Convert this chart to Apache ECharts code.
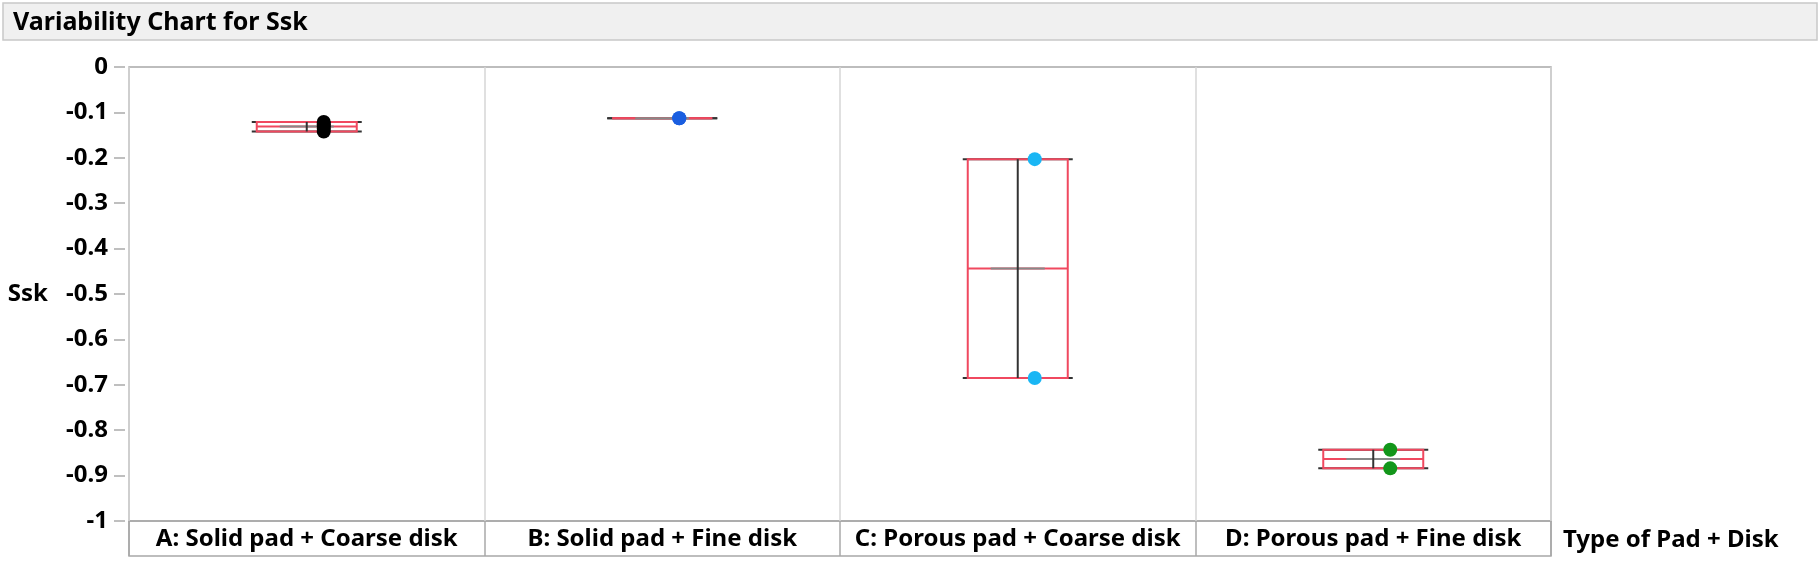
<!DOCTYPE html>
<html>
<head>
<meta charset="utf-8">
<script src="https://cdn.jsdelivr.net/npm/echarts@6/dist/echarts.min.js"></script>
<style>
  html, body { margin: 0; padding: 0; background: #fff; }
  #chart { width: 1820px; height: 561px; }
</style>
</head>
<body>
<div id="chart"></div>
<script>
// categories and Ssk readings per group
const categories = [
  "A: Solid pad + Coarse disk",
  "B: Solid pad + Fine disk",
  "C: Porous pad + Coarse disk",
  "D: Porous pad + Fine disk"
];
const sskA = [-0.121, -0.126, -0.131, -0.136, -0.142];
const sskB = [-0.113, -0.113];
const sskC = [-0.203, -0.685];
const sskD = [-0.843, -0.884];
const groups = [sskA, sskB, sskC, sskD];
const pointColors = ["#000000", "#1a5ee0", "#1ab6f4", "#13961a"];

const yMin = -1, yMax = 0, yStep = 0.1;
const FONT = "Noto Sans";

// plot area
const plotLeft = 129, plotTop = 67, plotWidth = 1422, plotHeight = 454, rowHeight = 35;

// range / mean per group
const summary = groups.map((g, i) => {
  const lo = Math.min(...g), hi = Math.max(...g);
  const mean = g.reduce((a, b) => a + b, 0) / g.length;
  return [i, lo, hi, mean];
});

// individual points
const points = [];
groups.forEach((g, i) => g.forEach(v => points.push({
  value: [i, v],
  itemStyle: { color: pointColors[i], opacity: 1 }
})));

const chart = echarts.init(document.getElementById("chart"));

function drawGroup(params, api) {
  const i = api.value(0);
  const lo = api.coord([i, api.value(1)]);
  const hi = api.coord([i, api.value(2)]);
  const mid = api.coord([i, api.value(3)]);
  const cx = lo[0];
  const half = 50;
  const black = { stroke: "#333", lineWidth: 2 };
  const red = { stroke: "#f0485f", lineWidth: 2, fill: null };
  return {
    type: "group",
    children: [
      // range bar caps
      { type: "line", shape: { x1: cx - half - 5, y1: hi[1], x2: cx + half + 5, y2: hi[1] }, style: black },
      { type: "line", shape: { x1: cx - half - 5, y1: lo[1], x2: cx + half + 5, y2: lo[1] }, style: black },
      // red box and mean line
      { type: "rect", shape: { x: cx - half, y: hi[1], width: half * 2, height: lo[1] - hi[1] }, style: red },
      { type: "line", shape: { x1: cx - half, y1: mid[1], x2: cx + half, y2: mid[1] }, style: { stroke: "#f0485f", lineWidth: 2 } },
      // grey group mean
      { type: "line", shape: { x1: cx - 27, y1: mid[1], x2: cx + 27, y2: mid[1] }, style: { stroke: "#888", lineWidth: 2 } },
      // range bar
      { type: "line", shape: { x1: cx, y1: hi[1], x2: cx, y2: lo[1] }, style: black }
    ]
  };
}

const labelFont = { fontFamily: FONT, fontWeight: "bold", fontSize: 24, color: "#000" };

chart.setOption({
  animation: false,
  backgroundColor: "#fff",
  title: {
    text: "Variability Chart for Ssk",
    left: 8, top: 5,
    textStyle: { fontFamily: FONT, fontWeight: "bold", fontSize: 25, color: "#000" }
  },
  graphic: [{
    type: "rect", z: -10,
    shape: { x: 3, y: 3, width: 1814, height: 37 },
    style: { fill: "#f0f0f0", stroke: "#c8c8c8", lineWidth: 1.5 }
  }, {
    // x axis title, right of the category row
    type: "text",
    x: plotLeft + plotWidth + 12,
    y: plotTop + plotHeight + rowHeight / 2 + 2,
    style: { text: "Type of Pad + Disk", verticalAlign: "middle", align: "left",
      font: "bold 24px 'Noto Sans'", fill: "#000" }
  }],
  grid: [
    { left: plotLeft, top: plotTop, width: plotWidth, height: plotHeight, show: true, borderColor: "#a8a8a8", borderWidth: 1.5 },
    { left: plotLeft, top: plotTop + plotHeight, width: plotWidth, height: rowHeight, show: true, borderColor: "#a8a8a8", borderWidth: 1.5 }
  ],
  xAxis: [{
    type: "category",
    gridIndex: 0,
    data: categories,
    axisLine: { show: false },
    axisTick: { show: false },
    splitLine: { show: true, lineStyle: { color: "#d6d6d6", width: 1.5 } },
    axisLabel: Object.assign({ margin: 6, interval: 0 }, labelFont)
  }, {
    type: "category",
    gridIndex: 1,
    data: categories,
    axisLine: { show: false },
    axisTick: { show: false },
    axisLabel: { show: false },
    splitLine: { show: true, lineStyle: { color: "#a8a8a8", width: 1.5 } }
  }],
  yAxis: [{
    type: "value",
    gridIndex: 0,
    min: yMin, max: yMax, interval: yStep,
    offset: 4,
    axisLine: { show: false },
    axisTick: { show: true, length: 11, lineStyle: { color: "#aaa", width: 1.5 } },
    splitLine: { show: false },
    axisLabel: Object.assign({ margin: 17 }, labelFont),
    name: "Ssk",
    nameLocation: "middle",
    nameRotate: 0,
    nameGap: 77,
    nameTextStyle: Object.assign({ align: "right" }, labelFont)
  }, {
    type: "value", gridIndex: 1, min: 0, max: 1, show: false
  }],
  series: [{
    type: "custom",
    xAxisIndex: 0, yAxisIndex: 0,
    renderItem: drawGroup,
    data: summary,
    encode: { x: 0, y: [1, 2, 3] },
    z: 2
  }, {
    type: "scatter",
    xAxisIndex: 0, yAxisIndex: 0,
    symbol: "circle",
    symbolSize: 14,
    symbolOffset: [17, 0],
    data: points,
    z: 3
  }]
});
</script>
</body>
</html>
